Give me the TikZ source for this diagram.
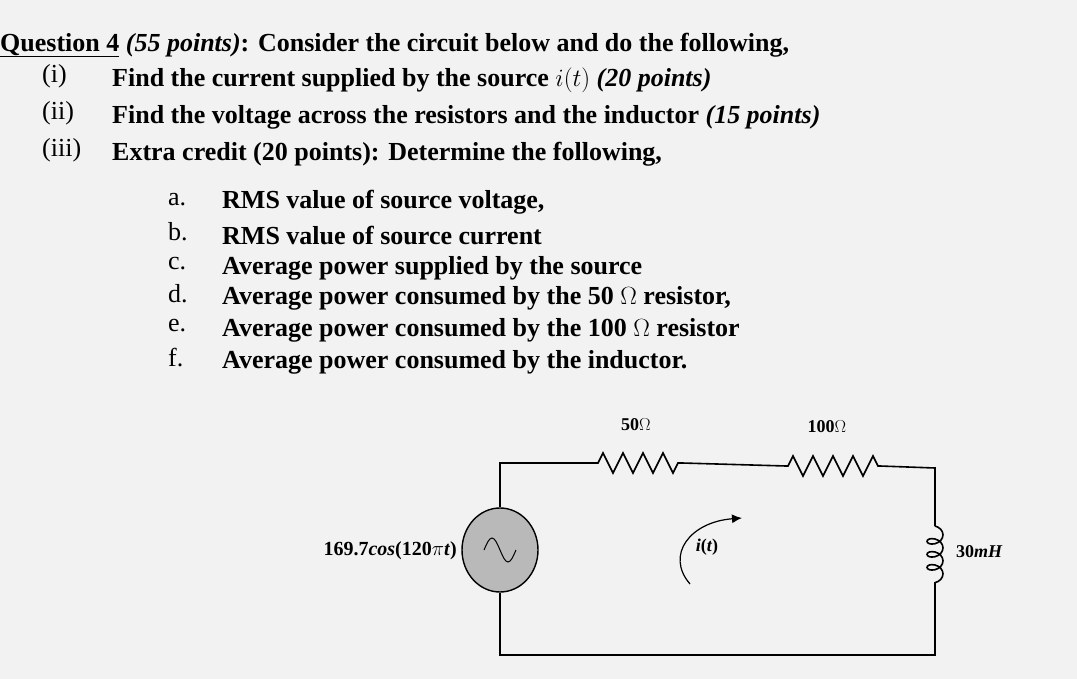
\documentclass[tikz,border=0pt]{standalone}
\usepackage{fontspec}
\setmainfont{Liberation Serif}
\usetikzlibrary{decorations.pathmorphing,arrows.meta,shapes.geometric}
\begin{document}
\begin{tikzpicture}[x=1pt,y=-1pt,
  tx/.style={anchor=west,inner sep=0,font=\fontsize{26}{30}\selectfont\bfseries},
  nx/.style={anchor=west,inner sep=0,font=\fontsize{26}{30}\selectfont},
  lbl/.style={inner sep=1,font=\fontsize{18}{21}\selectfont\bfseries},
  wire/.style={line width=1.6pt},
  res/.style={wire,decorate,decoration={zigzag,segment length=20,amplitude=10,pre length=2,post length=2}}]
\useasboundingbox[fill=gray!10] (0,0) rectangle (1077,679);
\node[tx] (q) at (0,45) {\underline{Question 4} \textit{(55 points)}: Consider the circuit below and do the following,};
\node[nx] (n1) at (42,76) {(i)}; \node[tx] (t1) at (112,80) {Find the current supplied by the source $i(t)$ \textit{(20 points)}};
\node[nx] (n2) at (42,113) {(ii)}; \node[tx] (t2) at (112,117) {Find the voltage across the resistors and the inductor \textit{(15 points)}};
\node[nx] (n3) at (42,150) {(iii)}; \node[tx] (t3) at (112,154) {Extra credit (20 points): Determine the following,};
\node[nx] (a) at (168,200) {a.}; \node[tx] at (222,202) {RMS value of source voltage,};
\node[nx] (b) at (168,232) {b.}; \node[tx] at (222,236) {RMS value of source current};
\node[nx] (c) at (168,264) {c.}; \node[tx] at (222,268) {Average power supplied by the source};
\node[nx] (d) at (168,294) {d.}; \node[tx] at (222,298) {Average power consumed by the 50 $\Omega$ resistor,};
\node[nx] (e) at (168,326) {e.}; \node[tx] at (222,330) {Average power consumed by the 100 $\Omega$ resistor};
\node[nx] (f) at (168,358) {f.}; \node[tx] at (222,362) {Average power consumed by the inductor.};
% circuit
\node[draw,line width=1.4pt,fill=gray!55,ellipse,minimum width=76,minimum height=84,inner sep=0] (src) at (500,550) {};
\draw[line width=1pt] (484,550) sin (492,538) cos (500,550) sin (508,562) cos (516,550);
\coordinate (tl) at (500,463); \coordinate (r1a) at (596,463); \coordinate (r1b) at (682,463);
\coordinate (r2a) at (786,466); \coordinate (r2b) at (880,466);
\coordinate (tr) at (935,468); \coordinate (la) at (935,526); \coordinate (lb) at (935,584);
\coordinate (br) at (935,655); \coordinate (bl) at (500,655);
\draw[wire] (src.north) -- (tl) -- (r1a);
\draw[res] (r1a) -- (r1b);
\draw[wire] (r1b) -- (r2a);
\draw[res] (r2a) -- (r2b);
\draw[wire] (r2b) -- (tr) -- (la);
\draw[wire,decorate,decoration={coil,aspect=0.7,segment length=13,amplitude=8,pre length=0,post length=0}] (la) -- (lb);
\draw[wire] (lb) -- (br) -- (bl) -- (src.south);
\node[lbl] (l50) at (636,425) {50$\Omega$};
\node[lbl] (l100) at (827,427) {100$\Omega$};
\node[lbl,anchor=east,font=\fontsize{20}{23}\selectfont\bfseries] (lv) at (458,551) {169.7\textit{cos}(120$\pi$\textit{t})};
\node[lbl,anchor=west] (ll) at (955,552) {30\textit{mH}};
\node[lbl] (li) at (707,547) {\textit{i}(\textit{t})};
\draw[line width=1.2pt,-{Latex[length=10,width=9]}] (690,584) .. controls (665,555) and (690,522) .. (742,518);
\end{tikzpicture}
\end{document}
